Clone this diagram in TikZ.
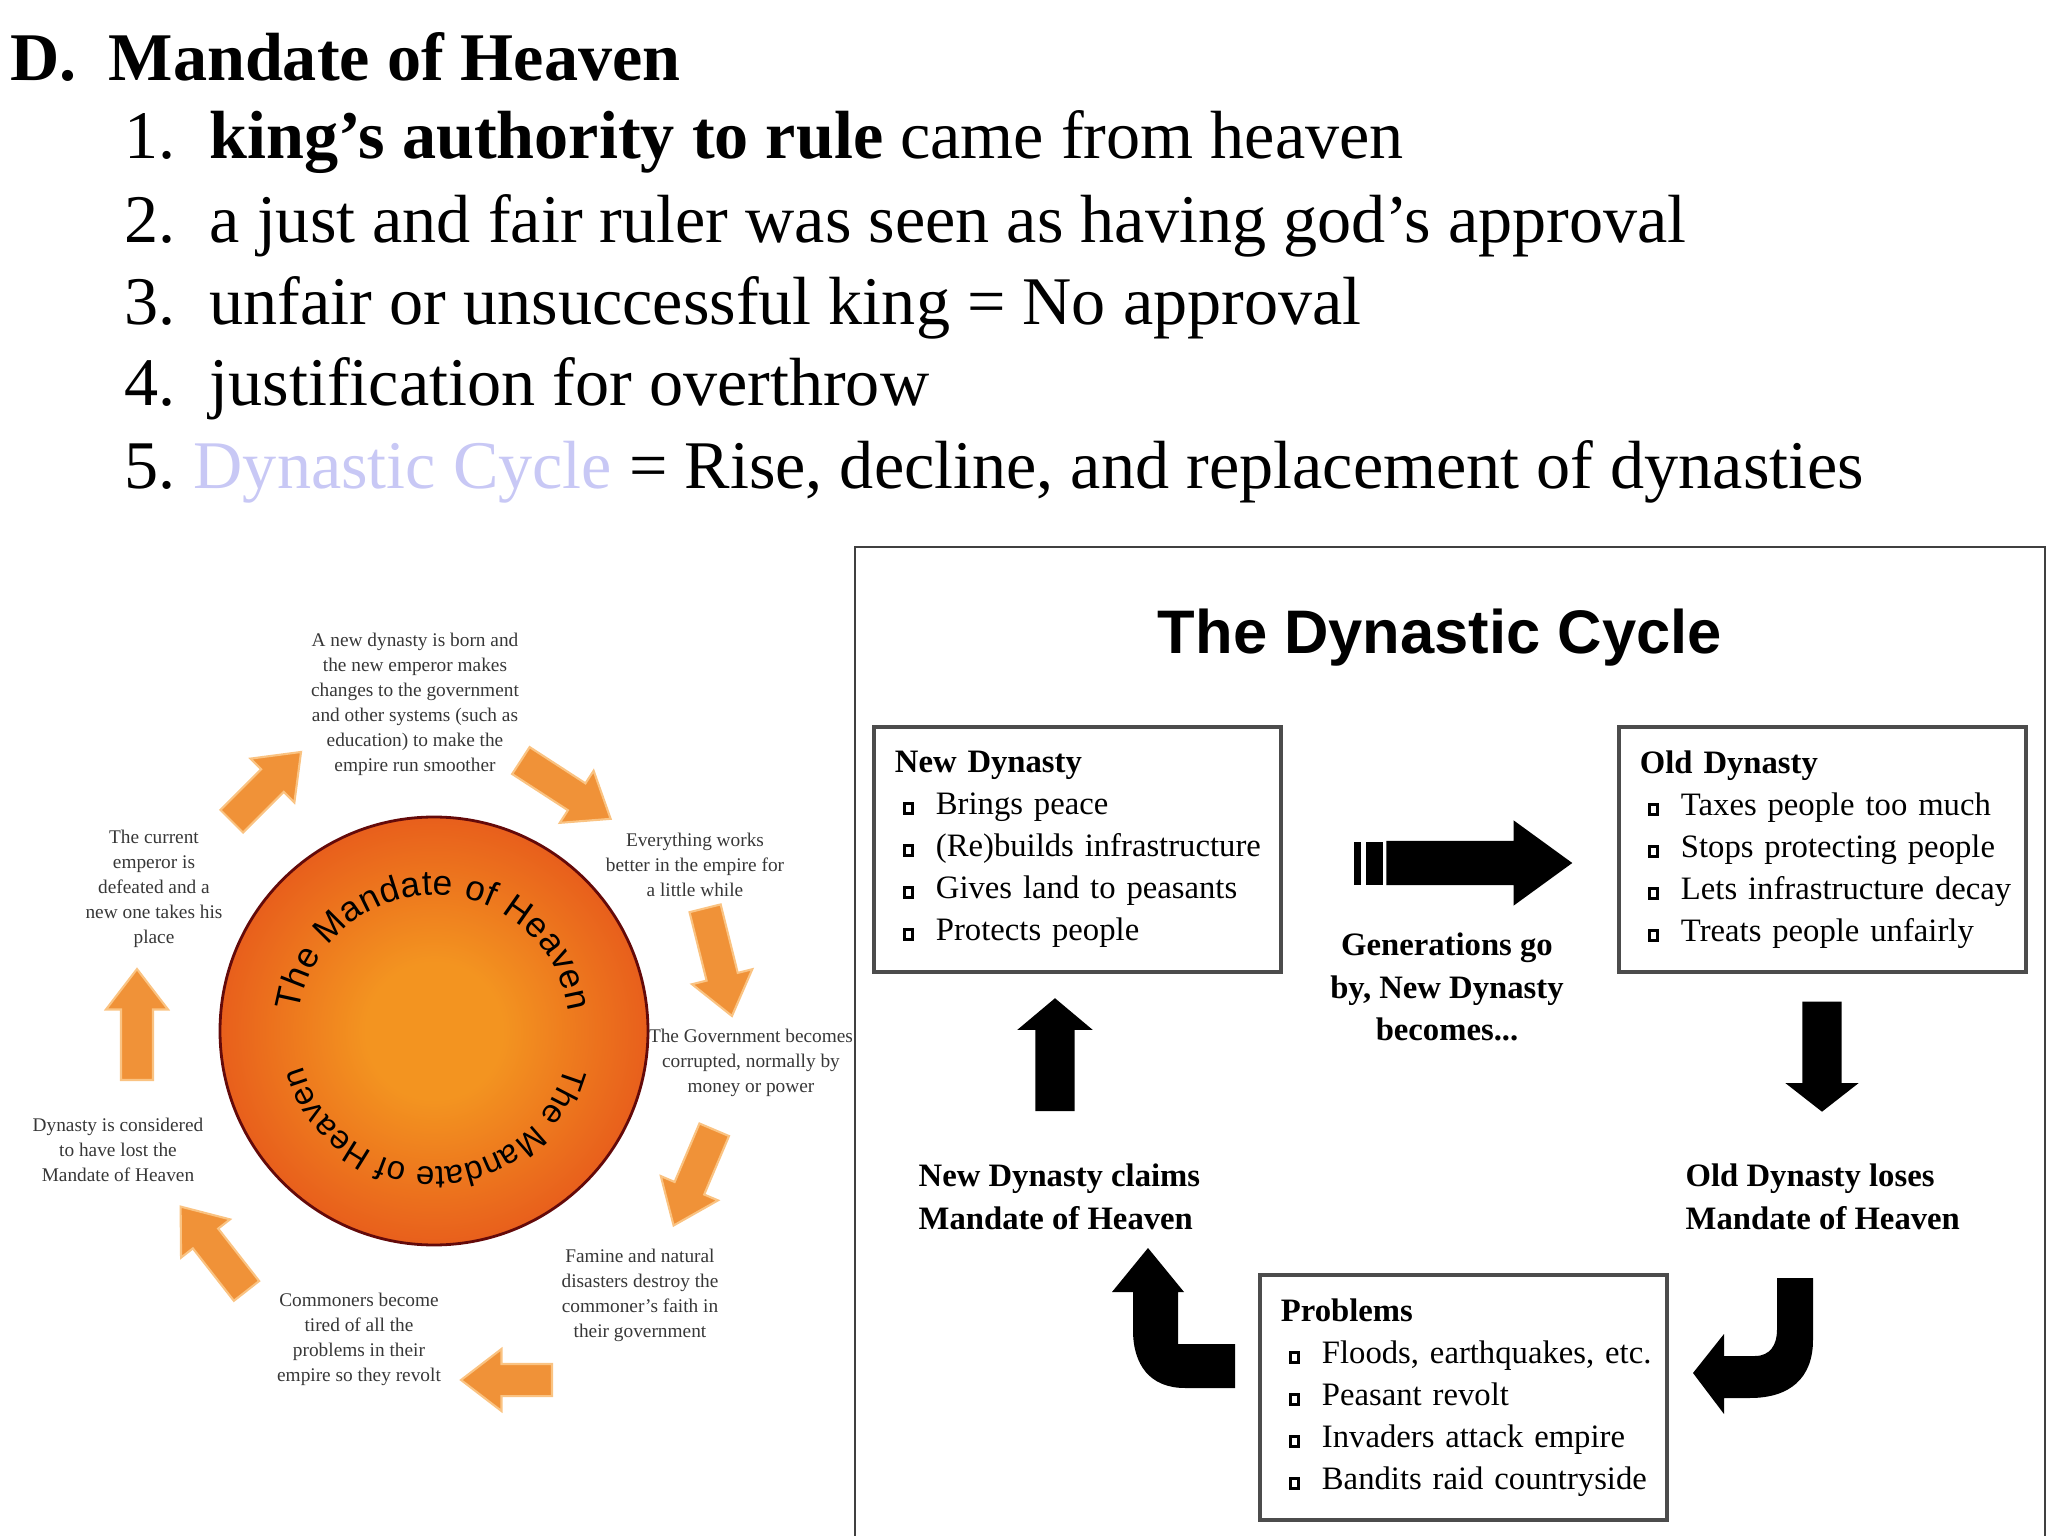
\documentclass[tikz,border=0pt]{standalone}
\usepackage{fontspec}
\setmainfont{Liberation Serif}
\newfontfamily\arialfont{Liberation Sans}
\usepackage{xcolor}
\usepackage{tikz}
\usetikzlibrary{shapes.arrows, decorations.text, calc}

\definecolor{cyclelav}{RGB}{200,200,245}
\definecolor{sunin}{RGB}{243,148,32}
\definecolor{sunmid}{RGB}{232,95,28}
\definecolor{sunout}{RGB}{205,30,18}
\definecolor{sunrim}{RGB}{100,10,10}
\definecolor{arrowor}{RGB}{240,146,56}
\definecolor{arrowlt}{RGB}{250,195,130}
\definecolor{lbltext}{RGB}{55,55,55}

\pgfdeclareradialshading{sunshade}{\pgfpoint{0bp}{0bp}}{%
  color(0bp)=(sunin); color(8bp)=(sunin); color(25bp)=(sunmid);
  color(39bp)=(sunout); color(48bp)=(sunout!80!black); color(50bp)=(sunrim)}

\newcommand{\bul}{\tikz[baseline=-0.01cm]\draw[line width=0.8pt] (0,0) rectangle (0.085,0.1);}
\newcommand{\itm}{\makebox[0.535cm][l]{\hspace{0.205cm}\bul}}
\newcommand{\ttl}[1]{\hspace*{0.125cm}\textbf{#1}}

\begin{document}
\begin{tikzpicture}[
    head/.style={anchor=base west, inner sep=0, font=\fontsize{19.4}{23.3}\selectfont\bfseries},
    item/.style={anchor=base west, inner sep=0, font=\fontsize{19.4}{23.3}\selectfont},
    sunlabel/.style={align=center, inner sep=0, text=lbltext, font=\fontsize{5.5}{7.1}\selectfont},
    fanarrow/.style={single arrow, draw=arrowlt, fill=arrowor, line width=0.6pt, inner xsep=0, inner ysep=0.15cm,
        single arrow head extend=0.15cm, single arrow tip angle=75},
    box/.style={draw=black!70, line width=1.1pt, rectangle, anchor=north west, inner xsep=0.085cm,
        minimum height=2.45cm, text width=3.9cm, align=left, font=\fontsize{9.3}{11.95}\selectfont},
    bold/.style={inner sep=0, font=\fontsize{9.3}{12.2}\selectfont\bfseries},
    blockarrow/.style={single arrow, fill=black, inner xsep=0},
    frame/.style={draw=black!75, line width=0.7pt}
]
\useasboundingbox (0,0) rectangle (20.48,-15.36);

% Heading and numbered points
\node[head] (secD) at (0.10,-0.81) {D.};
\node[head] (secT) at (1.08,-0.81) {Mandate of Heaven};
\node[item] (n1) at (1.24,-1.59) {1.};
\node[item] (t1) at (2.09,-1.59) {\textbf{king’s authority to rule} came from heaven};
\node[item] (n2) at (1.24,-2.43) {2.};
\node[item] (t2) at (2.09,-2.43) {a just and fair ruler was seen as having god’s approval};
\node[item] (n3) at (1.24,-3.25) {3.};
\node[item] (t3) at (2.09,-3.25) {unfair or unsuccessful king = No approval};
\node[item] (n4) at (1.24,-4.06) {4.};
\node[item] (t4) at (2.09,-4.06) {justification for overthrow};
\node[item] (n5) at (1.24,-4.88) {5.};
\node[item] (t5) at (1.93,-4.88) {\textcolor{cyclelav}{Dynastic Cycle} = Rise, decline, and replacement of dynasties};

% Left: the sun with its ring of steps
\node[circle, shade, shading=sunshade, draw=sunrim, line width=0.8pt, minimum size=4.28cm, inner sep=0] (sun) at (4.34,-10.31) {};
\path[decorate, decoration={text along path, text align={fit to path},
    text={|\arialfont\fontsize{10}{10}\selectfont|The Mandate of Heaven}}]
    ($(sun.center)+(172:1.36)$) arc[start angle=172, end angle=8, radius=1.36];
\path[decorate, decoration={text along path, text align={fit to path},
    text={|\arialfont\fontsize{9.4}{10}\selectfont|The Mandate of Heaven}}]
    ($(sun.center)+(-15:1.36)$) arc[start angle=-15, end angle=-165, radius=1.36];

\node[sunlabel] (lb1) at (4.15,-7.04) {A new dynasty is born and\\the new emperor makes\\changes to the government\\and other systems (such as\\education) to make the\\empire run smoother};
\node[sunlabel] (lb2) at (6.95,-8.65) {Everything works\\better in the empire for\\a little while};
\node[sunlabel] (lb3) at (7.51,-10.63) {The Government becomes\\corrupted, normally by\\money or power};
\node[sunlabel] (lb4) at (6.40,-12.95) {Famine and natural\\disasters destroy the\\commoner's faith in\\their government};
\node[sunlabel] (lb5) at (3.59,-13.39) {Commoners become\\tired of all the\\problems in their\\empire so they revolt};
\node[sunlabel] (lb6) at (1.18,-11.50) {Dynasty is considered\\to have lost the\\Mandate of Heaven};
\node[sunlabel] (lb7) at (1.54,-8.89) {The current\\emperor is\\defeated and a\\new one takes his\\place};

\node[fanarrow, rotate=45, minimum height=0.98cm] (fa1) at (2.59,-7.94) {};
\node[fanarrow, rotate=-33, minimum height=1.07cm] (fa2) at (5.57,-7.84) {};
\node[fanarrow, rotate=-76, minimum height=1.11cm] (fa3) at (7.16,-9.52) {};
\node[fanarrow, rotate=-113, minimum height=1.04cm] (fa4) at (6.98,-11.68) {};
\node[fanarrow, rotate=180, minimum height=0.91cm] (fa5) at (5.17,-13.80) {};
\node[fanarrow, rotate=128, minimum height=1.07cm] (fa6) at (2.20,-12.57) {};
\node[fanarrow, rotate=90, minimum height=1.11cm] (fa7) at (1.37,-10.35) {};

% Right: the dynastic cycle chart
\draw[frame] (8.55,-15.36) |- (20.45,-5.47) -- (20.45,-15.36);
\node[anchor=base, inner sep=0, font=\arialfont\fontsize{17.5}{21}\selectfont\bfseries] (title) at (14.40,-6.53) {The Dynastic Cycle};

\node[box] (newdyn) at (8.72,-7.25) {\ttl{New Dynasty}\\\itm Brings peace\\\itm (Re)builds infrastructure\\\itm Gives land to peasants\\\itm Protects people};
\node[box] (olddyn) at (16.17,-7.25) {\ttl{Old Dynasty}\\\itm Taxes people too much\\\itm Stops protecting people\\\itm Lets infrastructure decay\\\itm Treats people unfairly};
\node[box] (problems) at (12.58,-12.73) {\ttl{Problems}\\\itm Floods, earthquakes, etc.\\\itm Peasant revolt\\\itm Invaders attack empire\\\itm Bandits raid countryside};

% Block arrows between the stages
\node[blockarrow, inner ysep=0.215cm, minimum height=1.86cm, single arrow head extend=0.205cm, single arrow tip angle=72] (genarr) at (14.64,-8.63) {};
\fill (13.54,-8.42) rectangle (13.61,-8.85);
\fill (13.66,-8.42) rectangle (13.83,-8.85);
\node[bold, align=center] (gens) at (14.47,-9.87) {Generations go\\by, New Dynasty\\becomes...};

\node[blockarrow, rotate=-90, inner ysep=0.19cm, minimum height=1.10cm, single arrow head extend=0.17cm, single arrow tip angle=104] (downarr) at (18.22,-10.49) {};
\node[blockarrow, rotate=90, inner ysep=0.19cm, minimum height=1.13cm, single arrow head extend=0.18cm, single arrow tip angle=100] (uparr) at (10.55,-10.63) {};

\node[bold, anchor=west, align=left] (claims) at (9.18,-11.97) {New Dynasty claims\\Mandate of Heaven};
\node[bold, anchor=west, align=left] (loses) at (16.85,-11.97) {Old Dynasty loses\\Mandate of Heaven};

% Bent arrows round the Problems box
\fill (17.77,-12.78) -- (18.13,-12.78) -- (18.13,-13.40) .. controls (18.13,-13.78) and (17.90,-13.98) .. (17.50,-13.98)
    -- (17.24,-13.98) -- (17.24,-14.14) -- (16.93,-13.73) -- (17.24,-13.34) -- (17.24,-13.56) -- (17.55,-13.56)
    .. controls (17.70,-13.56) and (17.77,-13.45) .. (17.77,-13.30) -- cycle;
\fill (11.48,-12.48) -- (11.84,-12.92) -- (11.78,-12.92) -- (11.78,-13.44) -- (12.35,-13.44) -- (12.35,-13.88)
    -- (11.85,-13.88) .. controls (11.50,-13.88) and (11.33,-13.65) .. (11.33,-13.30) -- (11.33,-12.92) -- (11.12,-12.92) -- cycle;

\end{tikzpicture}
\end{document}
